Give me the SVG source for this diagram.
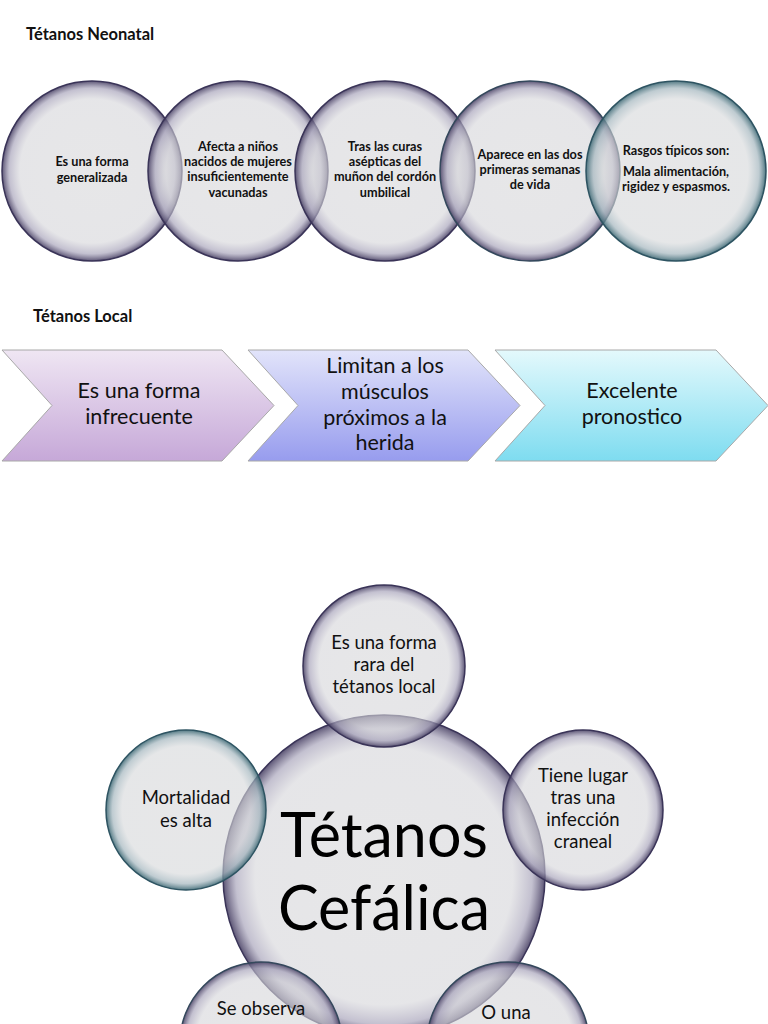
<svg xmlns="http://www.w3.org/2000/svg" width="768" height="1024" viewBox="0 0 768 1024">
<defs>
<radialGradient id="gP" cx="50%" cy="50%" r="50%">
<stop offset="0" stop-color="#d8d8da" stop-opacity="0.62"/>
<stop offset="0.8" stop-color="#d6d6da" stop-opacity="0.62"/>
<stop offset="0.92" stop-color="#aaa6bc" stop-opacity="0.7"/>
<stop offset="1" stop-color="#463e62" stop-opacity="0.88"/>
</radialGradient>
<radialGradient id="gT" cx="50%" cy="50%" r="50%">
<stop offset="0" stop-color="#d8d8da" stop-opacity="0.62"/>
<stop offset="0.8" stop-color="#d6d8da" stop-opacity="0.62"/>
<stop offset="0.92" stop-color="#a4b6be" stop-opacity="0.7"/>
<stop offset="1" stop-color="#3a6672" stop-opacity="0.88"/>
</radialGradient>
<linearGradient id="c1" x1="0" y1="0" x2="0" y2="1">
<stop offset="0" stop-color="#efe6f3"/>
<stop offset="1" stop-color="#c6a8d8"/>
</linearGradient>
<linearGradient id="c2" x1="0" y1="0" x2="0" y2="1">
<stop offset="0" stop-color="#e2e4fa"/>
<stop offset="1" stop-color="#979cee"/>
</linearGradient>
<linearGradient id="c3" x1="0" y1="0" x2="0" y2="1">
<stop offset="0" stop-color="#e4f9fc"/>
<stop offset="1" stop-color="#7edcf0"/>
</linearGradient>
</defs>
<style>
.cp{fill:url(#gP);stroke:#3a3458;stroke-width:1.5}
.ct{fill:url(#gT);stroke:#2e5462;stroke-width:1.5}
.st{font-family:Lato,"Open Sans",sans-serif;font-size:12.7px;font-weight:bold;fill:#111;text-anchor:middle}
.ti{font-family:Lato,"Open Sans",sans-serif;font-size:16.5px;font-weight:bold;fill:#111}
.ch{stroke:#a8a8a8;stroke-width:1}
.cht{font-family:Lato,"Open Sans",sans-serif;font-size:21.5px;fill:#111;text-anchor:middle}
.mt{font-family:Lato,"Open Sans",sans-serif;font-size:18.5px;fill:#111;text-anchor:middle}
.bt{font-family:Lato,"Open Sans",sans-serif;font-size:61px;fill:#000;text-anchor:middle}
</style>
<rect width="768" height="1024" fill="#fff"/>

<text class="ti" x="26" y="40">Tétanos Neonatal</text>
<text class="ti" x="33" y="322">Tétanos Local</text>

<g id="neo1"><circle class="cp" cx="92" cy="171" r="90"/>
<text class="st" x="92" y="166">Es una forma</text>
<text class="st" x="92" y="182">generalizada</text></g>
<g id="neo2"><circle class="cp" cx="238" cy="171" r="90"/>
<text class="st" x="238" y="151">Afecta a niños</text>
<text class="st" x="238" y="166">nacidos de mujeres</text>
<text class="st" x="238" y="181">insuficientemente</text>
<text class="st" x="238" y="197">vacunadas</text></g>
<g id="neo3"><circle class="cp" cx="385" cy="171" r="90"/>
<text class="st" x="385" y="151">Tras las curas</text>
<text class="st" x="385" y="166">asépticas del</text>
<text class="st" x="385" y="181">muñon del cordón</text>
<text class="st" x="385" y="197">umbilical</text></g>
<g id="neo4"><circle class="cp" cx="530" cy="171" r="90" style="stroke:#34485c"/>
<text class="st" x="530" y="159">Aparece en las dos</text>
<text class="st" x="530" y="174">primeras semanas</text>
<text class="st" x="530" y="189">de vida</text></g>
<g id="neo5"><circle class="ct" cx="676" cy="171" r="90"/>
<text class="st" x="676" y="155">Rasgos típicos son:</text>
<text class="st" x="676" y="176">Mala alimentación,</text>
<text class="st" x="676" y="191">rigidez y espasmos.</text></g>

<g id="loc1"><path class="ch" fill="url(#c1)" d="M2,350 H222 L274,405.5 L222,461 H2 L52,405.5 Z"/>
<text class="cht" x="139" y="398">Es una forma</text>
<text class="cht" x="139" y="424">infrecuente</text></g>
<g id="loc2"><path class="ch" fill="url(#c2)" d="M248,350 H468 L520,405.5 L468,461 H248 L298,405.5 Z"/>
<text class="cht" x="385" y="373">Limitan a los</text>
<text class="cht" x="385" y="399">músculos</text>
<text class="cht" x="385" y="425">próximos a la</text>
<text class="cht" x="385" y="450">herida</text></g>
<g id="loc3"><path class="ch" fill="url(#c3)" d="M495,350 H716 L768,405.5 L716,461 H495 L545,405.5 Z"/>
<text class="cht" x="632" y="398">Excelente</text>
<text class="cht" x="632" y="424">pronostico</text></g>

<g id="center"><circle class="cp" cx="384" cy="876" r="161"/>
<text class="bt" x="384" y="857">Tétanos</text>
<text class="bt" x="384" y="930">Cefálica</text></g>
<g id="top"><circle class="cp" cx="384" cy="666" r="81"/>
<text class="mt" x="384" y="649">Es una forma</text>
<text class="mt" x="384" y="671">rara del</text>
<text class="mt" x="384" y="693">tétanos local</text></g>
<g id="left"><circle class="ct" cx="186" cy="810" r="80"/>
<text class="mt" x="186" y="804">Mortalidad</text>
<text class="mt" x="186" y="827">es alta</text></g>
<g id="right"><circle class="cp" cx="583" cy="810" r="80"/>
<text class="mt" x="583" y="782">Tiene lugar</text>
<text class="mt" x="583" y="804">tras una</text>
<text class="mt" x="583" y="826">infección</text>
<text class="mt" x="583" y="848">craneal</text></g>
<g id="botleft"><circle class="cp" cx="261" cy="1043" r="81" style="stroke:#34485c"/>
<text class="mt" x="261" y="1015">Se observa</text></g>
<g id="botright"><circle class="cp" cx="508" cy="1043" r="81" style="stroke:#34485c"/>
<text class="mt" x="506" y="1019">O una</text></g>
</svg>
